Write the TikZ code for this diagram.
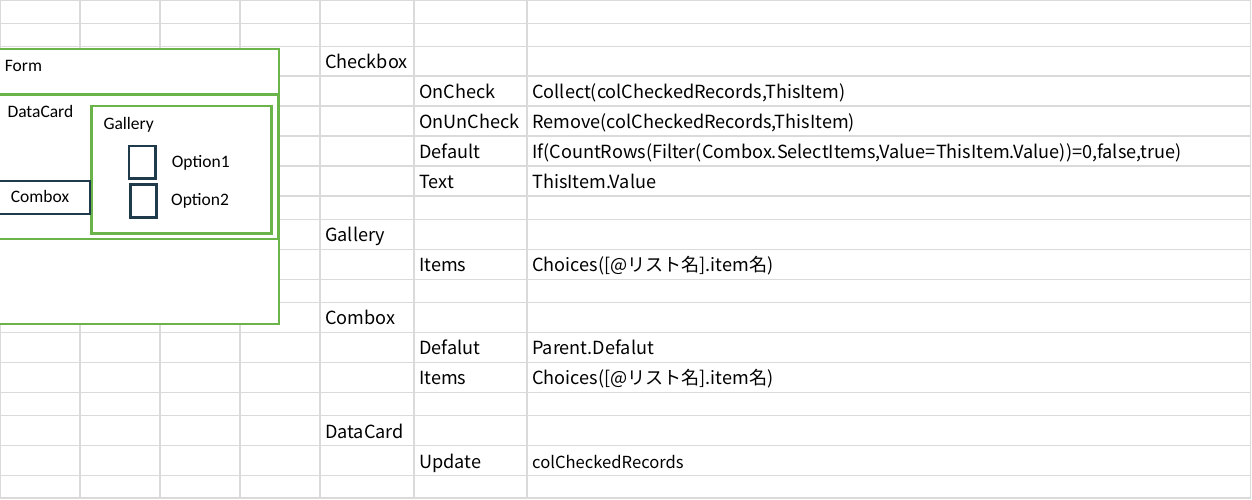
\documentclass[tikz,border=0pt]{standalone}
\usepackage{fontspec}
\setmainfont{Noto Sans CJK JP}
\newfontfamily\shapefont{Carlito}
\usetikzlibrary{positioning}
\definecolor{gridgray}{HTML}{DADADA}
\definecolor{formgreen}{HTML}{6AB44A}
\definecolor{ctrlnavy}{HTML}{1F3A4B}

\tikzset{
	cell/.style={anchor=base west, inner sep=0pt, font=\fontsize{18.1}{22}\selectfont},
	shapetext/.style={anchor=base west, inner sep=0pt, font=\shapefont\fontsize{17.5}{20}\selectfont},
	greenbox/.style={line width=2.3pt, draw=formgreen, fill=white},
	navybox/.style={line width=2.4pt, draw=ctrlnavy, fill=white},
}

\begin{document}
\begin{tikzpicture}[x=1pt, y=-1pt]
			%%%%% START %%%%%
			\useasboundingbox (0,0) rectangle (1252,499);
			\clip (0,0) rectangle (1252,499);
			\fill[white] (0,0) rectangle (1252,499);
			
			% sheet grid
			\foreach \y in {0.7,23.3,46.7,76,106,136,166,196,219.3,249.3,279.3,302.3,332.3,362.3,392.3,415.7,445.7,475.7,498}
				\draw[line width=1.3pt, color=gridgray] (0,\y) -- (1251,\y);
			\foreach \x in {0.7,80,160,240,320,414,527,1250.5}
				\draw[line width=1.3pt, color=gridgray] (\x,0) -- (\x,498);
			
			% screen mockup
			\draw[greenbox] (-5,48.7) rectangle (279,324);
			\draw[greenbox] (-5,94.5) rectangle (278,239);
			\draw[greenbox] (91.5,106) rectangle (271.5,233.5);
			\draw[navybox] (-5,181) rectangle (90,214);
			\draw[navybox] (129,146) rectangle (155.5,178.5);
			\draw[navybox] (130.5,184.5) rectangle (156.5,217.5);
			
			\node[shapetext] (formlbl) at (4.7,71) {Form};
			\node[shapetext] (cardlbl) at (7.3,117.3) {DataCard};
			\node[shapetext] (gallerylbl) at (103.3,129.3) {Gallery};
			\node[shapetext] (opt1lbl) at (171.7,167.5) {Option1};
			\node[shapetext] (opt2lbl) at (171,205) {Option2};
			\node[shapetext] (comboxlbl) at (10.7,202) {Combox};
			
			% property table
			\node[cell] (checkbox) at (325,68) {Checkbox};
			\node[cell] (oncheck) at (419,98) {OnCheck};
			\node[cell] (oncheckval) at (532,98) {Collect(colCheckedRecords,ThisItem)};
			\node[cell] (onuncheck) at (419,128) {OnUnCheck};
			\node[cell] (onuncheckval) at (532,128) {Remove(colCheckedRecords,ThisItem)};
			\node[cell] (default) at (419,158) {Default};
			\node[cell] (defaultval) at (532,158) {If(CountRows(Filter(Combox.SelectItems,Value=ThisItem.Value))=0,false,true)};
			\node[cell] (text) at (419,188) {Text};
			\node[cell] (textval) at (532,188) {ThisItem.Value};
			
			\node[cell] (gallery) at (325,241.5) {Gallery};
			\node[cell] (galitems) at (419,271.5) {Items};
			\node[cell] (galitemsval) at (532,271.5) {Choices([@リスト名].item名)};
			
			\node[cell] (combox) at (325,324.5) {Combox};
			\node[cell] (defalut) at (419,354.5) {Defalut};
			\node[cell] (defalutval) at (532,354.5) {Parent.Defalut};
			\node[cell] (cbxitems) at (419,384.5) {Items};
			\node[cell] (cbxitemsval) at (532,384.5) {Choices([@リスト名].item名)};
			
			\node[cell] (datacard) at (325,438) {DataCard};
			\node[cell] (update) at (419,468) {Update};
			\node[cell, font=\fontsize{16.6}{20}\selectfont] (updateval) at (532,468) {colCheckedRecords};
			
			%%%%% END %%%%%
\end{tikzpicture}
\end{document}
